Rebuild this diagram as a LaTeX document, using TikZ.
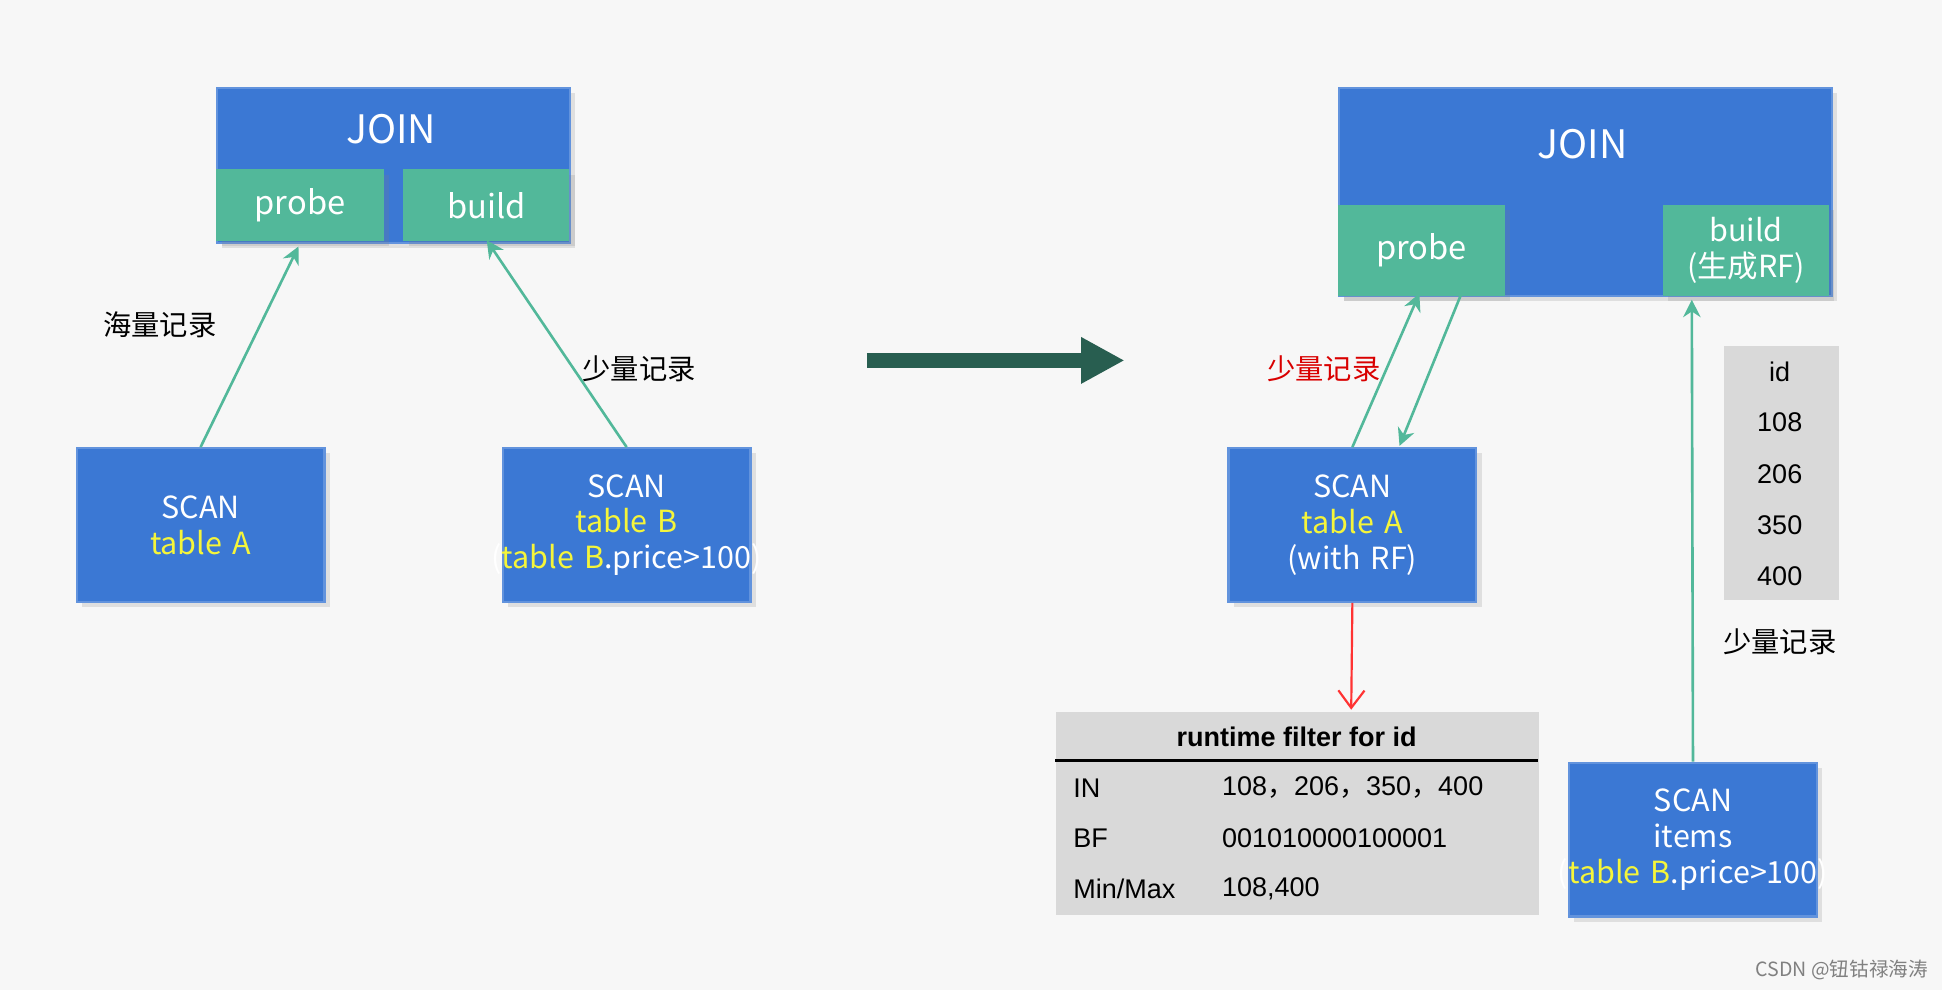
\documentclass[tikz,border=0pt]{standalone}
\usepackage{fontspec}
\setmainfont{Noto Sans CJK SC}
\newfontfamily\tabfont{Liberation Sans}
\usetikzlibrary{shadows,arrows.meta}
\definecolor{joinblue}{HTML}{3B78D4}
\definecolor{probegreen}{HTML}{52B89A}
\definecolor{bigarrow}{HTML}{285E50}
\definecolor{tabgray}{HTML}{D9D9D9}
\definecolor{hiyellow}{HTML}{F5F53A}
\tikzset{
  blk/.style={fill=joinblue, draw=joinblue!80!white, line width=0.5pt, text=white, align=center, inner sep=0pt, drop shadow={shadow xshift=1.2pt, shadow yshift=-1.2pt, opacity=0.2}},
  grn/.style={fill=probegreen, text=white, align=center, inner sep=0pt, font=\fontsize{7.5}{9}\selectfont, drop shadow={shadow xshift=1.2pt, shadow yshift=-1.2pt, opacity=0.2}},
  flow/.style={draw=probegreen, line width=0.6pt, -{Stealth[length=4pt,width=4pt]}},
  lbl/.style={font=\fontsize{6.5}{8}\selectfont},
  scantxt/.style={font=\fontsize{7}{8.2}\selectfont, text width=1.9cm},
}
\begin{document}
\begin{tikzpicture}[x=0.01cm, y=-0.01cm]
        \useasboundingbox (0,0) rectangle (1568,799);
        \fill[gray!6] (0,0) rectangle (1568,799);

        % 左侧：原始 JOIN
        \node[blk, anchor=north west, minimum width=2.85cm, minimum height=1.25cm] (joinL) at (174,70) {};
        \node[text=white, font=\fontsize{9}{10}\selectfont] (joinLt) at (316,104) {JOIN};
        \node[grn, anchor=north west, minimum width=1.35cm, minimum height=0.58cm] (probeL) at (174,136) {probe};
        \node[grn, anchor=north west, minimum width=1.34cm, minimum height=0.58cm] (buildL) at (325,136) {build};

        \node[blk, scantxt, anchor=north west, minimum width=2cm, minimum height=1.24cm] (scanA) at (61,361) {SCAN\\\textcolor{hiyellow}{table A}};
        \node[blk, scantxt, anchor=north west, minimum width=2cm, minimum height=1.24cm] (scanB) at (405,361) {SCAN\\\textcolor{hiyellow}{table B}\\\makebox[0pt]{(\textcolor{hiyellow}{table B}.price>100)}};

        \coordinate (pA) at (241,199);
        \coordinate (pB) at (393,194);
        \draw[flow] (scanA.north) -- (pA);
        \draw[flow] (scanB.north) -- (pB);

        \node[lbl] (manyL) at (129,262) {海量记录};
        \node[lbl] (fewL) at (516,298) {少量记录};

        % 中间大箭头
        \coordinate (bigS) at (700,291);
        \coordinate (bigE) at (908,291);
        \draw[bigarrow, line width=3.5pt, -{Triangle[length=10pt,width=10pt]}] (bigS) -- (bigE);

        % 右侧：带 RF 的 JOIN
        \node[blk, anchor=north west, minimum width=3.98cm, minimum height=1.68cm] (joinR) at (1080,70) {};
        \node[text=white, font=\fontsize{9}{10}\selectfont] (joinRt) at (1278,116) {JOIN};
        \node[grn, anchor=north west, minimum width=1.34cm, minimum height=0.73cm] (probeR) at (1080,165) {probe};
        \node[grn, anchor=north west, minimum width=1.34cm, minimum height=0.73cm, font=\fontsize{7}{8.2}\selectfont] (buildR) at (1342,165) {build\\(生成RF)};

        \node[blk, scantxt, anchor=north west, minimum width=2cm, minimum height=1.24cm] (scanAR) at (991,361) {SCAN\\\textcolor{hiyellow}{table A}\\(with RF)};
        \node[blk, scantxt, anchor=north west, minimum width=2cm, minimum height=1.24cm] (scanI) at (1266,615) {SCAN\\items\\\makebox[0pt]{(\textcolor{hiyellow}{table B}.price>100)}};

        \coordinate (pR1) at (1146,237);
        \coordinate (pR2) at (1180,237);
        \coordinate (sR2) at (1130,360);
        \coordinate (bR) at (1366,242);
        \draw[flow] (scanAR.north) -- (pR1);
        \draw[flow] (pR2) -- (sR2);
        \draw[flow] (scanI.north) -- (bR);

        \node[lbl, text=red!85!black] (fewR) at (1069,298) {少量记录};
        \node[lbl] (fewI) at (1437,518) {少量记录};

        % id 列
        \node[fill=tabgray, anchor=north west, minimum width=0.93cm, minimum height=2.05cm, inner sep=0pt] (idcol) at (1391,279) {};
        \foreach \v/\yy in {id/300, 108/341, 206/383, 350/424, 400/465}
          \node[font=\tabfont\fontsize{6.2}{7}\selectfont] (id\v) at (1437,\yy) {\v};

        % runtime filter 表
        \node[fill=tabgray, anchor=north west, minimum width=3.9cm, minimum height=1.64cm, inner sep=0pt] (rf) at (852,574) {};
        \coordinate (rfTop) at (1091,573);
        \draw[red!80, line width=0.5pt, -{Straight Barb[length=4pt,width=6pt]}] (scanAR.south) -- (rfTop);
        \node[font=\tabfont\bfseries\fontsize{6.2}{7}\selectfont] (rfHead) at (1047,595) {runtime filter for id};
        \coordinate (rfL) at (852,614);
        \coordinate (rfR) at (1242,614);
        \draw[line width=0.8pt] (rfL) -- (rfR);
        \foreach \k/\yy in {IN/636, BF/677, Min\slash Max/718}
          \node[font=\tabfont\fontsize{6.2}{7}\selectfont, anchor=west, inner sep=0pt] at (866,\yy) {\k};
        \node[font=\fontsize{6.2}{7}\selectfont, anchor=west, inner sep=0pt] (v1) at (986,636) {{\tabfont 108}，{\tabfont 206}，{\tabfont 350}，{\tabfont 400}};
        \node[font=\tabfont\fontsize{6.2}{7}\selectfont, anchor=west, inner sep=0pt] (v2) at (986,677) {001010000100001};
        \node[font=\tabfont\fontsize{6.2}{7}\selectfont, anchor=west, inner sep=0pt] (v3) at (986,718) {108,400};

        \node[text=gray, font=\fontsize{4.5}{5}\selectfont] (mark) at (1487,783) {CSDN @钮钴禄海涛};
\end{tikzpicture}
\end{document}
